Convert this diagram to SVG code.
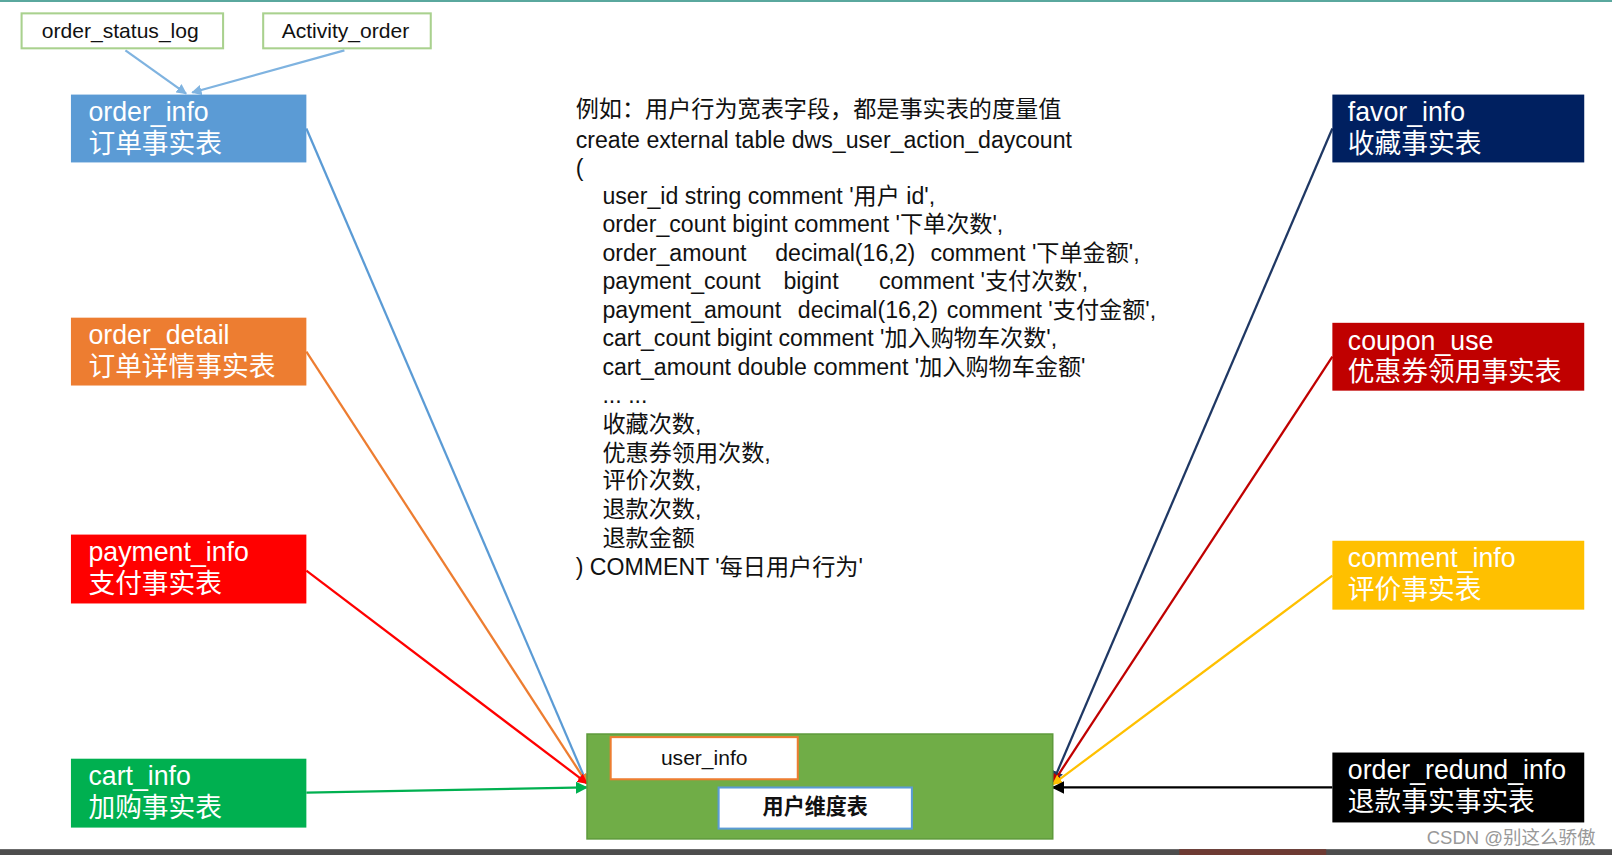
<svg xmlns="http://www.w3.org/2000/svg" width="1612" height="855" viewBox="0 0 1612 855">
<style>
.lbl{font-family:"Liberation Sans","Noto Sans CJK SC",sans-serif;fill:#fff;font-size:26px}
.small{font-family:"Liberation Sans","Noto Sans CJK SC",sans-serif;fill:#111;font-size:20.5px}
.code{font-family:"Liberation Sans","Noto Sans CJK SC",sans-serif;fill:#111;font-size:22.5px}
.conn{fill:none;stroke-width:2.2}
</style>
<defs>
<marker id="aBlue" markerWidth="10" markerHeight="10" refX="9" refY="5" orient="auto" markerUnits="userSpaceOnUse"><path d="M0,0 L10,5 L0,10 z" fill="#5b9bd5"/></marker>
<marker id="aLBlue" markerWidth="10" markerHeight="10" refX="9" refY="5" orient="auto" markerUnits="userSpaceOnUse"><path d="M0,0 L10,5 L0,10 z" fill="#7fb3e0"/></marker>
<marker id="aOrange" markerWidth="10" markerHeight="10" refX="9" refY="5" orient="auto" markerUnits="userSpaceOnUse"><path d="M0,0 L10,5 L0,10 z" fill="#ed7d31"/></marker>
<marker id="aRed" markerWidth="10" markerHeight="10" refX="9" refY="5" orient="auto" markerUnits="userSpaceOnUse"><path d="M0,0 L10,5 L0,10 z" fill="#ff0000"/></marker>
<marker id="aGreen" markerWidth="12" markerHeight="12" refX="11" refY="6" orient="auto" markerUnits="userSpaceOnUse"><path d="M0,0 L12,6 L0,12 z" fill="#00b050"/></marker>
<marker id="aNavy" markerWidth="12" markerHeight="12" refX="11" refY="6" orient="auto" markerUnits="userSpaceOnUse"><path d="M0,0 L12,6 L0,12 z" fill="#1f3864"/></marker>
<marker id="aDRed" markerWidth="10" markerHeight="10" refX="9" refY="5" orient="auto" markerUnits="userSpaceOnUse"><path d="M0,0 L10,5 L0,10 z" fill="#c00000"/></marker>
<marker id="aYellow" markerWidth="10" markerHeight="10" refX="9" refY="5" orient="auto" markerUnits="userSpaceOnUse"><path d="M0,0 L10,5 L0,10 z" fill="#ffc000"/></marker>
<marker id="aBlack" markerWidth="12" markerHeight="12" refX="11" refY="6" orient="auto" markerUnits="userSpaceOnUse"><path d="M0,0 L12,6 L0,12 z" fill="#000"/></marker>
</defs>
<rect x="0" y="0" width="1612" height="855" fill="#fff"/>
<g transform="scale(1.02806)">
<line x1="0" y1="1" x2="1568" y2="1" stroke="#5aa89e" stroke-width="2"/>

<g id="connectors">
<line class="conn" x1="122" y1="49" x2="181" y2="91" stroke="#7fb3e0" stroke-width="1.5" marker-end="url(#aLBlue)"/>
<line class="conn" x1="335" y1="49" x2="187" y2="90" stroke="#7fb3e0" stroke-width="1.5" marker-end="url(#aLBlue)"/>
<line class="conn" x1="298" y1="125" x2="571" y2="762" stroke="#5b9bd5" marker-end="url(#aBlue)"/>
<line class="conn" x1="298" y1="342" x2="571" y2="762" stroke="#ed7d31" marker-end="url(#aOrange)"/>
<line class="conn" x1="298" y1="555" x2="571" y2="762" stroke="#ff0000" marker-end="url(#aRed)"/>
<line class="conn" x1="298" y1="771" x2="571" y2="766" stroke="#00b050" marker-end="url(#aGreen)"/>
<line class="conn" x1="1296" y1="125" x2="1024" y2="761" stroke="#1f3864" marker-end="url(#aNavy)"/>
<line class="conn" x1="1296" y1="347" x2="1024" y2="762" stroke="#c00000" marker-end="url(#aDRed)"/>
<line class="conn" x1="1296" y1="560" x2="1024" y2="763" stroke="#ffc000" marker-end="url(#aYellow)"/>
<line class="conn" x1="1296" y1="766" x2="1024" y2="766" stroke="#000" marker-end="url(#aBlack)"/>
</g>

<g id="order_status_log">
<rect x="21" y="13" width="196" height="34" fill="#fff" stroke="#a9d18e" stroke-width="2"/>
<text class="small" x="117" y="37" text-anchor="middle">order_status_log</text>
</g>
<g id="activity_order">
<rect x="256" y="13" width="163" height="34" fill="#fff" stroke="#a9d18e" stroke-width="2"/>
<text class="small" x="336" y="37" text-anchor="middle">Activity_order</text>
</g>

<g id="order_info">
<rect x="69" y="92" width="229" height="66" fill="#5b9bd5"/>
<text class="lbl" x="86" y="118">order_info</text>
<text class="lbl" x="86" y="149">订单事实表</text>
</g>
<g id="order_detail">
<rect x="69" y="309" width="229" height="66" fill="#ed7d31"/>
<text class="lbl" x="86" y="335">order_detail</text>
<text class="lbl" x="86" y="366">订单详情事实表</text>
</g>
<g id="payment_info">
<rect x="69" y="520" width="229" height="67" fill="#ff0000"/>
<text class="lbl" x="86" y="546">payment_info</text>
<text class="lbl" x="86" y="577">支付事实表</text>
</g>
<g id="cart_info">
<rect x="69" y="738" width="229" height="67" fill="#00b050"/>
<text class="lbl" x="86" y="764">cart_info</text>
<text class="lbl" x="86" y="795">加购事实表</text>
</g>

<g id="favor_info">
<rect x="1296" y="92" width="245" height="66" fill="#002060"/>
<text class="lbl" x="1311" y="118">favor_info</text>
<text class="lbl" x="1311" y="149">收藏事实表</text>
</g>
<g id="coupon_use">
<rect x="1296" y="314" width="245" height="66" fill="#c00000"/>
<text class="lbl" x="1311" y="340">coupon_use</text>
<text class="lbl" x="1311" y="371">优惠券领用事实表</text>
</g>
<g id="comment_info">
<rect x="1296" y="526" width="245" height="67" fill="#ffc000"/>
<text class="lbl" x="1311" y="552">comment_info</text>
<text class="lbl" x="1311" y="583">评价事实表</text>
</g>
<g id="order_redund_info">
<rect x="1296" y="732" width="245" height="68" fill="#000"/>
<text class="lbl" x="1311" y="758">order_redund_info</text>
<text class="lbl" x="1311" y="789">退款事实事实表</text>
</g>

<g id="user_dim">
<rect x="571" y="714" width="453" height="102" fill="#70ad47" stroke="#5e9a3b" stroke-width="1.5"/>
<g id="user_info">
<rect x="594" y="717" width="182" height="41" fill="#fff" stroke="#ed7d31" stroke-width="2"/>
<text class="small" x="685" y="744" text-anchor="middle" font-size="18">user_info</text>
</g>
<g id="user_dim_table">
<rect x="699" y="766" width="188" height="40" fill="#fff" stroke="#5b9bd5" stroke-width="2"/>
<text class="small" x="793" y="792" text-anchor="middle" font-size="19" font-weight="bold">用户维度表</text>
</g>
</g>

<g id="ddl">
<text class="code" x="560" y="114">例如：用户行为宽表字段，都是事实表的度量值</text>
<text class="code" x="560" y="144">create external table dws_user_action_daycount</text>
<text class="code" x="560" y="171">(</text>
<text class="code" x="586" y="198">user_id string comment '用户 id',</text>
<text class="code" x="586" y="226">order_count bigint comment '下单次数',</text>
<text class="code" y="254"><tspan x="586">order_amount</tspan><tspan x="754">decimal(16,2)</tspan><tspan x="905">comment '下单金额',</tspan></text>
<text class="code" y="281"><tspan x="586">payment_count</tspan><tspan x="762">bigint</tspan><tspan x="855">comment '支付次数',</tspan></text>
<text class="code" y="309"><tspan x="586">payment_amount</tspan><tspan x="776">decimal(16,2)</tspan><tspan x="921">comment '支付金额',</tspan></text>
<text class="code" x="586" y="337">cart_count bigint comment '加入购物车次数',</text>
<text class="code" x="586" y="365">cart_amount double comment '加入购物车金额'</text>
<text class="code" x="586" y="392">... ...</text>
<text class="code" x="586" y="420">收藏次数,</text>
<text class="code" x="586" y="448">优惠券领用次数,</text>
<text class="code" x="586" y="475">评价次数,</text>
<text class="code" x="586" y="503">退款次数,</text>
<text class="code" x="586" y="531">退款金额</text>
<text class="code" x="560" y="559">) COMMENT '每日用户行为'</text>
</g>

<text x="1552" y="821" text-anchor="end" font-family="Liberation Sans,Noto Sans CJK SC,sans-serif" font-size="18" fill="#999">CSDN @别这么骄傲</text>
<rect x="0" y="826" width="1568" height="10" fill="#4d4d4d"/>
<rect x="1147" y="826" width="143" height="10" fill="#6e3b33"/>
</g>
</svg>
